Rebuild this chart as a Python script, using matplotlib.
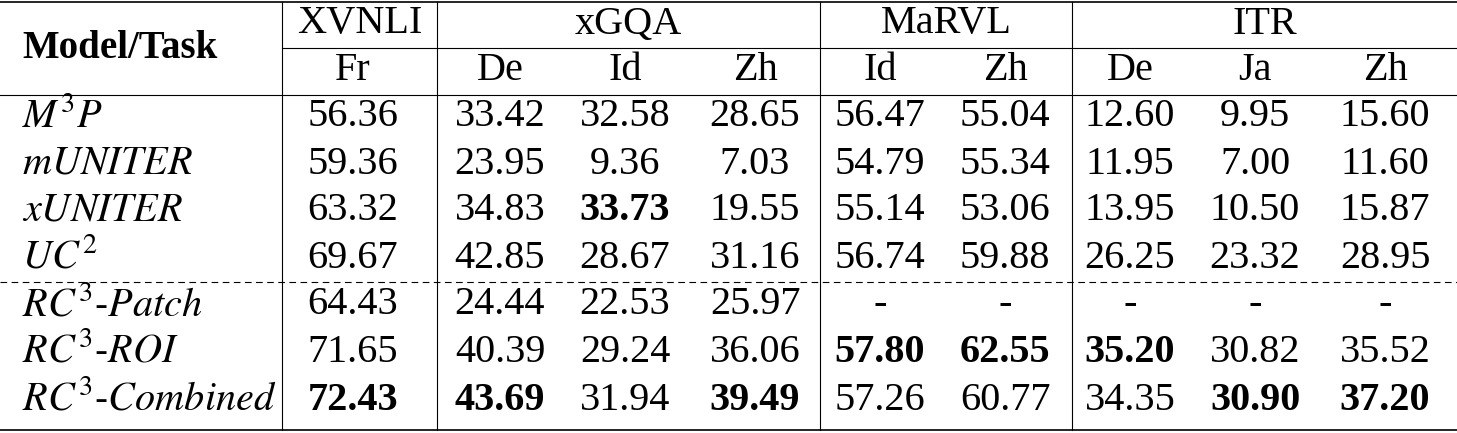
import matplotlib
matplotlib.use("Agg")
import matplotlib.pyplot as plt

plt.rcParams['font.family'] = ['Liberation Serif', 'DejaVu Serif']
plt.rcParams['mathtext.fontset'] = 'stix'

groups = ["XVNLI", "xGQA", "MaRVL", "ITR"]
langs = ["Fr", "De", "Id", "Zh", "Id", "Zh", "De", "Ja", "Zh"]
models = [r"$M^3P$", r"$mUNITER$", r"$xUNITER$", r"$UC^2$",
          r"$RC^3\text{-}Patch$", r"$RC^3\text{-}ROI$", r"$RC^3\text{-}Combined$"]
values = [
    ["56.36", "33.42", "32.58", "28.65", "56.47", "55.04", "12.60", "9.95", "15.60"],
    ["59.36", "23.95", "9.36", "7.03", "54.79", "55.34", "11.95", "7.00", "11.60"],
    ["63.32", "34.83", "33.73", "19.55", "55.14", "53.06", "13.95", "10.50", "15.87"],
    ["69.67", "42.85", "28.67", "31.16", "56.74", "59.88", "26.25", "23.32", "28.95"],
    ["64.43", "24.44", "22.53", "25.97", "-", "-", "-", "-", "-"],
    ["71.65", "40.39", "29.24", "36.06", "57.80", "62.55", "35.20", "30.82", "35.52"],
    ["72.43", "43.69", "31.94", "39.49", "57.26", "60.77", "34.35", "30.90", "37.20"],
]
bold = {(2, 2), (5, 4), (5, 5), (5, 6), (6, 0), (6, 1), (6, 3), (6, 7), (6, 8)}

fig = plt.figure(figsize=(14.57, 4.33), dpi=100)
ax = fig.add_axes([0, 0, 1, 1])
ax.set_xlim(0, 1457); ax.set_ylim(433, 0); ax.axis('off')

fs = 29
colx = [353, 500, 625, 755, 880, 1005, 1130, 1255, 1385]
gx = [(282, 437), (437, 820), (820, 1072), (1072, 1457)]
rowy = [117, 164, 211, 258, 305, 352, 400]

ax.plot([0, 1457], [2, 2], color='k', lw=1.2)
ax.plot([282, 1457], [48, 48], color='k', lw=0.8)
ax.plot([0, 1457], [95, 95], color='k', lw=0.8)
ax.plot([0, 1457], [282, 282], color='k', lw=0.8, ls=(0, (6, 4)))
ax.plot([0, 1457], [430, 430], color='k', lw=1.2)
for x in [282, 437, 820, 1072]:
    ax.plot([x, x], [2, 430], color='k', lw=0.8)

ax.text(22, 48, "Model/Task", fontsize=fs - 1, fontweight='bold', ha='left', va='center')
for g, (a, b) in zip(groups, gx):
    ax.text((a + b) / 2, 24, g, fontsize=fs, ha='center', va='center')
for x, l in zip(colx, langs):
    ax.text(x, 71, l, fontsize=fs, ha='center', va='center')
for i, (m, y) in enumerate(zip(models, rowy)):
    ax.text(22, y, m, fontsize=fs, ha='left', va='center')
    for j, x in enumerate(colx):
        ax.text(x, y, values[i][j], fontsize=fs, ha='center', va='center',
                fontweight='bold' if (i, j) in bold else 'normal')

fig.savefig("out.png", dpi=100)
